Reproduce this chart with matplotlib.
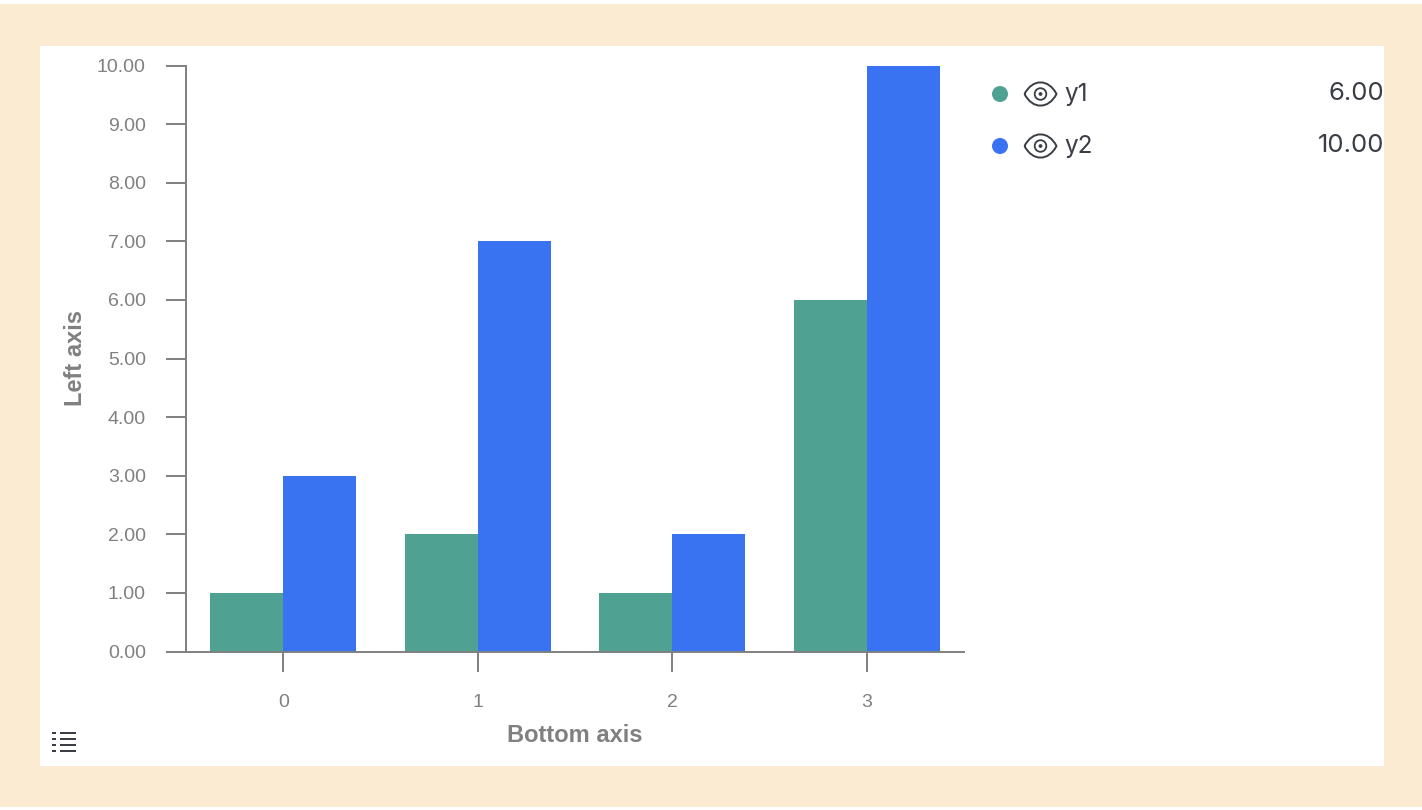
import matplotlib
matplotlib.use("Agg")
import matplotlib.pyplot as plt
from matplotlib.patches import Rectangle, Circle, PathPatch
from matplotlib.path import Path

W, H = 1422, 810

categories = [0, 1, 2, 3]
y1 = [1, 2, 1, 6]
y2 = [3, 7, 2, 10]
y_ticks = [0, 1, 2, 3, 4, 5, 6, 7, 8, 9, 10]
series_names = ["y1", "y2"]
legend_values = ["6.00", "10.00"]

GREEN = "#4fa192"
BLUE = "#3a73f2"
GRAY = "#808080"
DARK = "#3a3d45"
BAR_W = 0.375


def px_axes(fig, left, top, right, bottom):
    """Axes placed by pixel edges, measured from the top left of the picture."""
    return fig.add_axes([left / W, 1 - bottom / H, (right - left) / W, (bottom - top) / H])


def draw_eye(ov, cx, cy):
    eye = Path(
        [(cx - 16, cy), (cx - 8, cy - 15.5), (cx + 8, cy - 15.5), (cx + 16, cy),
         (cx + 8, cy + 15.5), (cx - 8, cy + 15.5), (cx - 16, cy)],
        [Path.MOVETO, Path.CURVE4, Path.CURVE4, Path.CURVE4,
         Path.CURVE4, Path.CURVE4, Path.CURVE4],
    )
    ov.add_patch(PathPatch(eye, fill=False, ec=DARK, lw=1.4))
    ov.add_patch(Circle((cx, cy), 5.8, fill=False, ec=DARK, lw=1.3))
    ov.add_patch(Circle((cx, cy), 1.9, fc=DARK, ec="none"))


fig = plt.figure(figsize=(W / 100, H / 100), dpi=100, facecolor="white")

# page background and card, in pixel coordinates
ov = fig.add_axes([0, 0, 1, 1], zorder=0)
ov.set_xlim(0, W)
ov.set_ylim(H, 0)
ov.axis("off")
ov.add_patch(Rectangle((0, 4), W, 803, fc="#fcebd3", ec="none"))
ov.add_patch(Rectangle((40, 46), 1344, 720, fc="white", ec="none"))

# list icon, bottom left
for row in range(4):
    yy = 733 + row * 6
    ov.add_patch(Rectangle((52, yy - 1), 4, 2, fc=DARK, ec="none"))
    ov.add_patch(Rectangle((60, yy - 1), 16, 2, fc=DARK, ec="none"))

# legend
legend_colors = [GREEN, BLUE]
for i, name in enumerate(series_names):
    yy = 94 + i * 52
    ov.add_patch(Circle((1000, yy), 8, fc=legend_colors[i], ec="none"))
    draw_eye(ov, 1040.5, yy)
    ov.text(1064, yy, name, fontsize=17.5, family="Inter", color=DARK, va="center", ha="left")
    ov.text(1384, yy, legend_values[i], fontsize=18.5, family="Inter", color=DARK,
            va="center", ha="right")

# chart
ax = px_axes(fig, 186, 65.5, 964, 651.5)
ax.patch.set_alpha(0)
x = list(categories)
ax.bar([v - BAR_W / 2 for v in x], y1, BAR_W, color=GREEN)
ax.bar([v + BAR_W / 2 for v in x], y2, BAR_W, color=BLUE)
ax.set_xlim(-0.5, 3.5)
ax.set_ylim(0, 10)

for side in ["top", "right"]:
    ax.spines[side].set_visible(False)
for side in ["left", "bottom"]:
    ax.spines[side].set_color(GRAY)
    ax.spines[side].set_linewidth(1.4)

ax.set_xticks(x)
ax.set_xticklabels([str(c) for c in categories])
ax.set_yticks(y_ticks)
ax.set_yticklabels([f"{v:.2f}" for v in y_ticks])
ax.tick_params(axis="both", length=14.4, width=1.4, color=GRAY, labelcolor=GRAY, labelsize=14)
ax.tick_params(axis="x", pad=16.5)
ax.tick_params(axis="y", pad=14.5)
for lab in ax.get_xticklabels() + ax.get_yticklabels():
    lab.set_family("Liberation Sans")

ov.text(574.5, 735, "Bottom axis", fontsize=17, fontweight="bold", family="Liberation Sans",
        color=GRAY, ha="center", va="center")
ov.text(75.5, 358.5, "Left axis", fontsize=17, fontweight="bold", family="Liberation Sans",
        color=GRAY, ha="center", va="center", rotation=90)

fig.savefig("out.png", dpi=100)
